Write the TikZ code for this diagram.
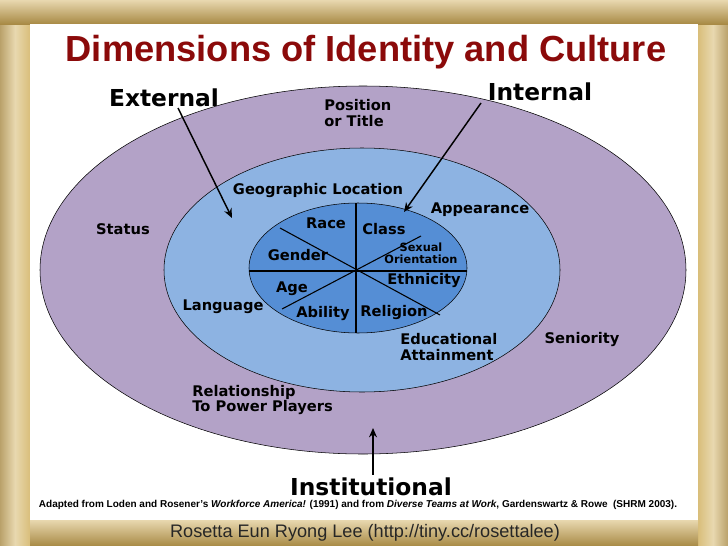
\documentclass[tikz,border=0pt]{standalone}
\usepackage{fontspec}
\setmainfont{Liberation Sans}
\newfontfamily\lab{DejaVu Sans}
\usetikzlibrary{arrows.meta}
\definecolor{gold}{HTML}{D9BE7A}
\definecolor{goldd}{HTML}{A88A45}
\definecolor{purp}{HTML}{B3A2C7}
\definecolor{midb}{HTML}{8DB3E2}
\definecolor{inb}{HTML}{558ED5}
\definecolor{ttl}{HTML}{8B0A0A}
\tikzset{
 lb/.style={font=\lab\bfseries\fontsize{11}{11.5}\selectfont, inner sep=0pt, align=left},
 big/.style={font=\lab\bfseries\fontsize{17.5}{19}\selectfont, inner sep=0pt},
 arr/.style={-{Stealth[length=7pt,width=6pt]}, line width=1.1pt}
}
\begin{document}
\begin{tikzpicture}[x=0.75pt,y=-0.75pt]
\useasboundingbox (0,0) rectangle (728,546);
\fill[top color=gold, bottom color=goldd] (0,0) rectangle (728,546);
\fill[left color=goldd!80, right color=gold, middle color=gold!60!white] (0,0) rectangle (30,546);
\fill[left color=gold, right color=goldd!80, middle color=gold!60!white] (698,0) rectangle (728,546);
\fill[top color=gold!60!white, bottom color=goldd] (0,0) rectangle (728,24);
\fill[top color=gold!60!white, bottom color=goldd] (30,520) rectangle (698,546);
\fill[white] (30,24) rectangle (698,520);
\node[font=\bfseries\fontsize{27.2}{30}\selectfont, text=ttl] (title) at (366,52) {Dimensions of Identity and Culture};
\draw[black, fill=purp] (363,270) ellipse [x radius=323, y radius=184];
\draw[black, fill=midb] (362,270) ellipse [x radius=198, y radius=122];
\draw[black, fill=inb] (358,268) ellipse [x radius=109, y radius=65];
\coordinate (c) at (356,270);
\draw[line width=0.8pt] (356,203) -- (356,333);
\draw[line width=0.8pt] (249,271) -- (467,271);
\draw[line width=0.8pt] (280,228) -- (440,315);
\draw[line width=0.8pt] (421,236) -- (282,309);
\node[lb] (race) at (326,223) {Race};
\node[lb] (class) at (384,229) {Class};
\node[lb] (gender) at (298,255) {Gender};
\node[lb,align=center,font=\lab\bfseries\fontsize{8.5}{9}\selectfont] (sex) at (421,253) {Sexual\\Orientation};
\node[lb] (eth) at (424,281) {Ethnicity};
\node[lb] (age) at (292,289) {Age};
\node[lb] (abil) at (323,314) {Ability};
\node[lb] (rel) at (394,313) {Religion};
\node[lb] (geo) at (318,191) {Geographic Location};
\node[lb] (app) at (480,210) {Appearance};
\node[lb] (lang) at (223,307) {Language};
\node[lb,anchor=west] (edu) at (400,347) {Educational\\Attainment};
\node[lb,anchor=west] (pos) at (324,113) {Position\\or Title};
\node[lb] (status) at (123,229) {Status};
\node[lb] (sen) at (582,340) {Seniority};
\node[lb,anchor=west] (relp) at (192,400) {Relationship\\To Power Players};
\node[big] (ext) at (164,98) {External};
\node[big] (int) at (540,92) {Internal};
\node[big] (inst) at (371,487) {Institutional};
\coordinate (exte) at (232,218);
\coordinate (inte) at (404,212);
\coordinate (inste) at (373,428);
\draw[arr] (178,108) -- (exte);
\draw[arr] (481,103) -- (inte);
\draw[arr] (inst.north -| inste) ++(0,-3) -- (inste);
\node[font=\bfseries\fontsize{7.5}{9}\selectfont, inner sep=0pt] (foot) at (358,505) {Adapted from Loden and Rosener's \textit{Workforce America!} (1991) and from \textit{Diverse Teams at Work}, Gardenswartz \& Rowe\ \ (SHRM 2003).};
\node[font=\fontsize{13.6}{15}\selectfont, text=black!85, inner sep=0pt] (cred) at (365,533) {Rosetta Eun Ryong Lee (http://tiny.cc/rosettalee)};
\end{tikzpicture}
\end{document}
